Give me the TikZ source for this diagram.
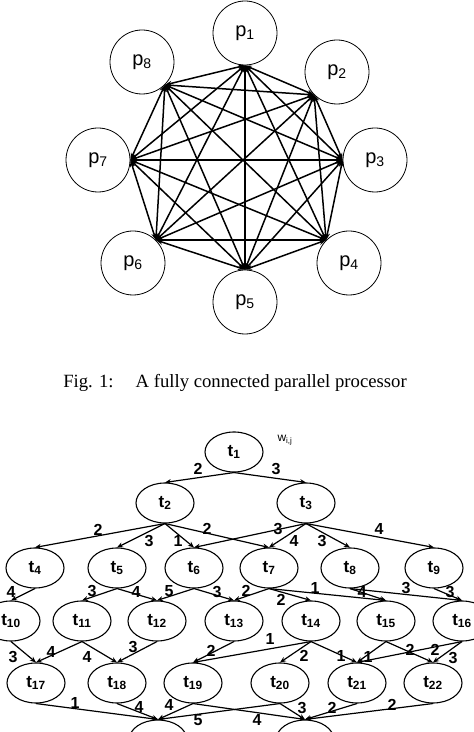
\documentclass[tikz,border=0pt]{standalone}
\usepackage{fontspec}
\setmainfont{Liberation Serif}
\setsansfont{Liberation Sans}
\usetikzlibrary{shapes.geometric, arrows.meta, positioning}

\tikzset{
  proc/.style={circle, draw, line width=0.8pt, minimum size=64pt, inner sep=0pt, font=\sffamily\fontsize{20}{24}\selectfont},
  link/.style={line width=1.5pt, {Stealth[length=7pt,width=5pt]}-{Stealth[length=7pt,width=5pt]}},
  task/.style={ellipse, draw, line width=1.1pt, minimum width=58pt, minimum height=40pt, inner sep=0pt, font=\sffamily\bfseries\fontsize{17}{17}\selectfont},
  dep/.style={line width=1.2pt, -{Stealth[length=6pt,width=5pt]}},
  wt/.style={inner sep=0pt, font=\sffamily\bfseries\fontsize{16}{16}\selectfont},
}

\begin{document}
\begin{tikzpicture}[x=1pt, y=1pt]
\useasboundingbox (0,0) rectangle (474,732);
\clip (0,0) rectangle (474,732);

% Processors
\foreach \n/\x/\y in {1/245/699, 2/337/660, 3/375/572, 4/349/469, 5/245/430, 6/133/469, 7/98/572, 8/142/670}
{
    \node[proc] (p\n) at (\x,\y) {p\textsubscript{\n}};
}

% Contact points facing the middle
\foreach \n/\a in {1/270, 2/225, 3/180, 4/135, 5/90, 6/45, 7/0, 8/315}
{
    \coordinate (v\n) at (p\n.\a);
}

% Every pair of processors
\foreach \i in {1,...,7}
{
    \pgfmathtruncatemacro{\j}{\i+1}
    \foreach \k in {\j,...,8}
    {
        \draw[link] (v\i) -- (v\k);
    }
}

% Caption of the first figure
\node[anchor=base, font=\rmfamily\fontsize{18.7}{22}\selectfont] (cap) at (235,344) {Fig. 1:\hspace{22pt}A fully connected parallel processor};

% Tasks
\foreach \n/\x/\y in {1/234/280, 2/165/229, 3/306/229,
    4/35/164, 5/117/164, 6/194/164, 7/269/164, 8/350/164, 9/434/164,
    10/11/111, 11/82/111, 12/157/111, 13/234/111, 14/311/111, 15/386/111, 16/462/111,
    17/36/49, 18/117/49, 19/193/49, 20/280/49, 21/357/49, 22/433/49}
{
    \node[task] (t\n) at (\x,\y) {t\textsubscript{\n}};
}
\node[task] (t23) at (158,-8) {};
\node[task] (t24) at (305,-8) {};

% Label for the weights
\node[font=\sffamily\fontsize{12}{12}\selectfont] (wij) at (285,292) {w\textsubscript{i,j}};

% Dependencies with their weights
\foreach \a/\b/\w/\lx/\ly in {1/2/2/198/263, 1/3/3/276/263,
    2/4/2/98/202, 2/5/3/149/191, 2/6/1/178/191, 2/7/2/207/203,
    3/6/3/278/203, 3/7/4/294/191, 3/8/3/322/191, 3/9/4/379/203,
    4/10/4/11/140, 5/11/3/92/141, 5/12/4/136/140, 6/12/5/169/141, 6/13/3/217/140,
    7/13/2/246/141, 7/14/2/281/132, 7/15/1/315/144, 8/15/4/362/140, 8/16/3/406/144, 9/16/3/450/140,
    10/17/3/13/75, 11/17/4/51/80, 11/18/4/87/75, 12/18/3/133/85, 13/19/2/211/81,
    14/19/1/270/93, 14/20/2/304/76, 14/21/1/341/76, 15/21/1/368/75, 15/22/2/410/82,
    16/21/2/435/82, 16/22/3/453/74,
    17/23/1/75/29, 18/23/4/139/25, 19/23/4/169/27, 20/23/5/198/12,
    19/24/4/257/12, 20/24/3/302/24, 21/24/2/332/24, 22/24/2/392/27}
{
    \draw[dep] (t\a.south) -- (t\b.north);
    \node[wt] (w\a-\b) at (\lx,\ly) {\w};
}

\end{tikzpicture}
\end{document}
